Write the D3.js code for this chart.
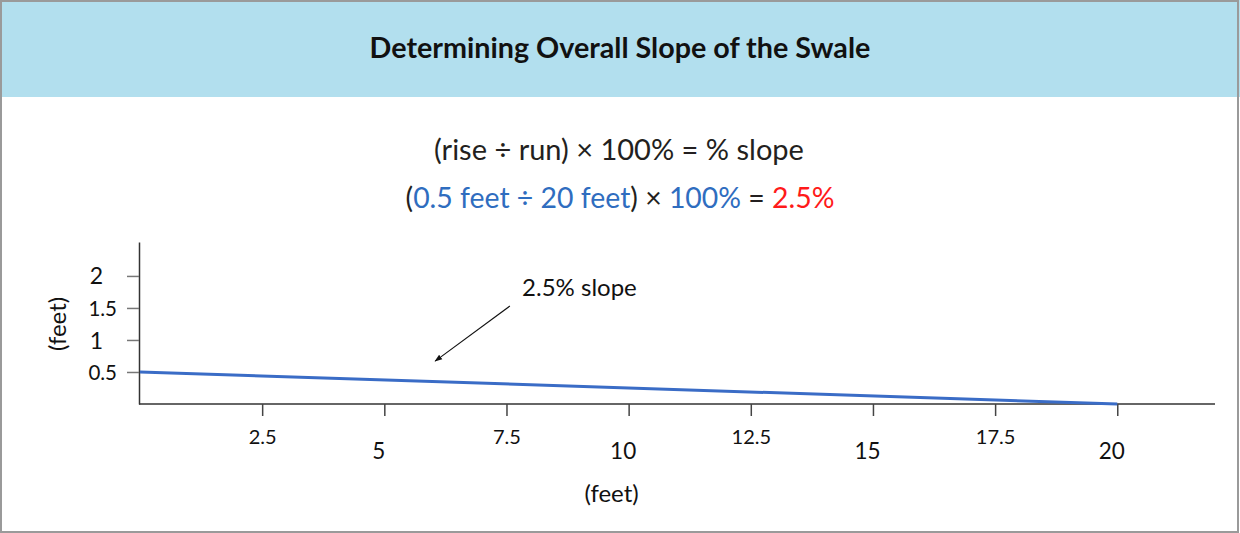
<!DOCTYPE html>
<html>
<head>
<meta charset="utf-8">
<script src="https://cdn.jsdelivr.net/npm/d3@7"></script>
<style>
  html, body { margin: 0; padding: 0; background: #fff; }
  svg { display: block; font-family: Lato, "Open Sans", sans-serif; }
</style>
</head>
<body>
<svg id="chart" width="1240" height="533"></svg>
<script>
// chart data
var runValues = [0, 20];          // feet along the swale
var riseValues = [0.5, 0];        // feet of elevation
var xTicks = [2.5, 5, 7.5, 10, 12.5, 15, 17.5, 20];
var yTicks = [0.5, 1, 1.5, 2];
var titleText = "Determining Overall Slope of the Swale";
var formulaText = "(rise \u00f7 run) \u00d7 100% = % slope";
// pieces of the worked formula, with a colour key for each
var workedParts = [
  ["(", "k"], ["0.5 feet \u00f7 20 feet", "b"], [") \u00d7 ", "k"],
  ["100%", "b"], [" = ", "k"], ["2.5%", "r"]
];
// annotation: text anchor and arrow from/to, in data units
var noteLabel = "2.5% slope";
var noteAt = [7.82, 1.69];
var arrowFrom = [7.57, 1.53];
var arrowTo = [6.04, 0.67];

var colours = { k: "#231f20", b: "#2f6dbf", r: "#ff1a1a" };

var svg = d3.select("#chart"),
  W = +svg.attr("width"),
  H = +svg.attr("height");

// header band + frame
svg.append("rect").attr("x", 0).attr("y", 0).attr("width", W).attr("height", 97)
  .attr("fill", "#b2dfee");
svg.append("rect").attr("x", 1).attr("y", 1).attr("width", W - 3).attr("height", H - 2)
  .attr("fill", "none").attr("stroke", "#9a9a9a").attr("stroke-width", 2);

svg.append("text")
  .attr("x", 620).attr("y", 58)
  .attr("text-anchor", "middle")
  .attr("font-size", 28.7).attr("font-weight", "bold").attr("fill", "#111")
  .text(titleText);

svg.append("text")
  .attr("x", 619).attr("y", 160)
  .attr("text-anchor", "middle")
  .attr("font-size", 29).attr("fill", colours.k)
  .text(formulaText);

var worked = svg.append("text")
  .attr("x", 620).attr("y", 208)
  .attr("text-anchor", "middle")
  .attr("font-size", 28.4);
worked.selectAll("tspan")
  .data(workedParts)
  .enter().append("tspan")
  .attr("fill", function(d) { return colours[d[1]]; })
  .text(function(d) { return d[0]; });

// scales
var x = d3.scaleLinear().domain([0, 22]).range([140, 1215]);
var y = d3.scaleLinear().domain([0, 2.53]).range([404, 242]);
var fmt = function(d) { return String(d); };
var isHalf = function(d) { return d % 1 !== 0; };

var g = svg.append("g");

// x axis
var xAxis = g.append("g")
  .attr("transform", "translate(0," + y(0) + ")")
  .call(d3.axisBottom(x).tickValues(xTicks).tickFormat(fmt).tickSize(12).tickSizeOuter(0))
  .attr("font-family", null).attr("font-size", null);
xAxis.select(".domain").attr("stroke", "#333").attr("stroke-width", 1.5)
  .attr("d", "M" + (x(0) - 1) + ",0H" + x(22));
xAxis.selectAll(".tick line").attr("stroke", "#444").attr("stroke-width", 1.5);
xAxis.selectAll(".tick text")
  .attr("font-size", function(d) { return isHalf(d) ? 20 : 22.5; })
  .attr("fill", "#111")
  .attr("dy", "0.35em")
  .attr("dx", function(d) { return isHalf(d) ? 0 : -6; })
  .attr("y", function(d) { return isHalf(d) ? 33 : 47; });

// y axis
var yAxis = g.append("g")
  .attr("transform", "translate(" + (x(0) - 1) + ",0)")
  .call(d3.axisLeft(y).tickValues(yTicks).tickFormat(fmt).tickSize(12).tickSizeOuter(0))
  .attr("font-family", null).attr("font-size", null);
yAxis.select(".domain").attr("stroke", "#333").attr("stroke-width", 1.5);
yAxis.selectAll(".tick line").attr("stroke", "#777").attr("stroke-width", 1.5);
yAxis.selectAll(".tick text")
  .attr("font-size", function(d) { return isHalf(d) ? 20.5 : 23; })
  .attr("fill", "#111")
  .attr("dy", "0.35em")
  .attr("x", function(d) { return isHalf(d) ? -22 : -36; });

// axis titles
svg.append("text")
  .attr("transform", "translate(58," + y(1.25) + ") rotate(-90)")
  .attr("text-anchor", "middle").attr("dy", "0.35em")
  .attr("font-size", 24).attr("fill", "#111")
  .text("(feet)");
svg.append("text")
  .attr("x", x(9.65)).attr("y", 494)
  .attr("text-anchor", "middle").attr("dy", "0.35em")
  .attr("font-size", 24).attr("fill", "#111")
  .text("(feet)");

// the slope line
var pts = runValues.map(function(r, i) { return [r, riseValues[i]]; });
g.append("path")
  .datum(pts)
  .attr("fill", "none")
  .attr("stroke", "#3a6cc6")
  .attr("stroke-width", 3)
  .attr("d", d3.line().x(function(d) { return x(d[0]); }).y(function(d) { return y(d[1]); }));

// annotation with arrow
svg.append("defs").append("marker")
  .attr("id", "head").attr("viewBox", "0 0 10 10")
  .attr("refX", 9).attr("refY", 5)
  .attr("markerWidth", 7).attr("markerHeight", 7)
  .attr("orient", "auto")
  .append("path").attr("d", "M0,1.5L10,5L0,8.5Z").attr("fill", "#111");

g.append("line")
  .attr("x1", x(arrowFrom[0])).attr("y1", y(arrowFrom[1]))
  .attr("x2", x(arrowTo[0])).attr("y2", y(arrowTo[1]))
  .attr("stroke", "#111").attr("stroke-width", 1.1)
  .attr("marker-end", "url(#head)");

g.append("text")
  .attr("x", x(noteAt[0])).attr("y", y(noteAt[1]))
  .attr("font-size", 24).attr("fill", "#111")
  .text(noteLabel);
</script>
</body>
</html>
